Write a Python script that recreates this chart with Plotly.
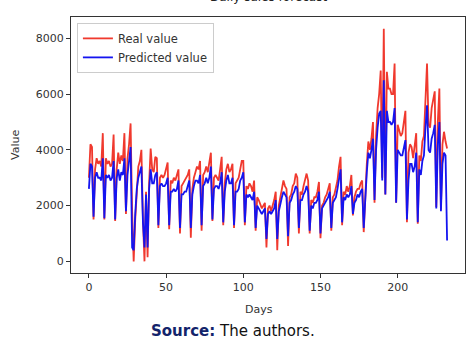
import plotly.graph_objects as go

# Daily values, grouped by week (7 days per row)
real_value = [
    3000, 4200, 4100, 1500, 3300, 3700, 3500,
    3600, 3400, 4600, 1500, 3700, 3500, 3600,
    3400, 3500, 4550, 1450, 3300, 3900, 3500,
    3800, 3600, 4600, 1700, 3700, 4200, 4950,
    1800, 0, 1500, 2700, 3400, 3600, 4000,
    1500, 0, 2500, 150, 2800, 4050, 3300,
    3200, 3750, 3700, 1200, 3000, 3100, 3000,
    3100, 3300, 3550, 1150, 2900, 2800, 3000,
    2900, 3100, 3300, 1000, 2700, 2800, 2900,
    3000, 3100, 3300, 850, 2600, 3000, 3200,
    3400, 3300, 3600, 1100, 3100, 3200, 3400,
    3200, 3500, 3900, 1450, 3000, 3100, 3000,
    2900, 3300, 3750, 1300, 2800, 3300, 3500,
    3200, 3300, 3500, 1200, 2800, 2900, 3000,
    3300, 3600, 3600, 1300, 2700, 2600, 2800,
    2700, 2500, 2900, 1100, 2300, 2200, 2000,
    1900, 2000, 2100, 500, 1900, 2000, 1800,
    2000, 2200, 2500, 400, 2000, 2300, 2600,
    2900, 2700, 2600, 550, 2300, 2400, 2700,
    2800, 3150, 3000, 1000, 2500, 2400, 2700,
    2900, 3150, 2900, 1000, 2200, 2100, 2300,
    2300, 2500, 2850, 830, 2000, 2100, 2300,
    2400, 2600, 2800, 1100, 2300, 2400, 2600,
    2900, 3400, 3750, 1300, 2500, 2400, 2700,
    2500, 2700, 3100, 1650, 2300, 2500, 2600,
    2600, 2800, 2900, 1050, 2500, 3500, 4300,
    4000, 4400, 5000, 2100, 4500, 5500, 6000,
    6850, 3000, 8350, 2400, 6800, 6200, 6200,
    6000, 6000, 7100, 2100, 4900, 4700, 4500,
    4600, 5000, 5400, 1400, 3900, 4200, 4100,
    3700, 4100, 4600, 1350, 3800, 3600, 4300,
    4500, 5800, 7100, 4900, 4800, 5500, 5800,
    6100, 1950, 5000, 6200, 1850, 4200, 4650,
    4300, 4050,
]

predicted_value = [
    2600, 3500, 3400, 1600, 3000, 3200, 3000,
    3000, 2900, 3700, 1550, 3100, 3000, 3100,
    2900, 3000, 3600, 1500, 3000, 3300, 2900,
    3200, 3100, 3700, 1800, 3100, 3600, 4100,
    500, 400, 1700, 2600, 3000, 3200, 3400,
    1400, 500, 2400, 500, 2600, 3300, 2800,
    2800, 3100, 3200, 1300, 2700, 2800, 2700,
    2700, 2800, 3000, 1300, 2500, 2500, 2600,
    2500, 2600, 2900, 1200, 2400, 2400, 2500,
    2500, 2700, 2900, 1200, 2400, 2700, 2900,
    2900, 2800, 3100, 1300, 2700, 2800, 3000,
    2800, 3000, 3400, 1500, 2600, 2700, 2700,
    2600, 2800, 3200, 1400, 2500, 2900, 3100,
    2800, 2800, 3000, 1300, 2500, 2500, 2600,
    2900, 3000, 3200, 1400, 2400, 2300, 2400,
    2300, 2200, 2500, 1200, 2000, 1900, 1800,
    1700, 1800, 1900, 800, 1700, 1800, 1700,
    1800, 1900, 2200, 800, 1800, 2100, 2300,
    2500, 2400, 2300, 900, 2100, 2200, 2400,
    2500, 2700, 2600, 1200, 2200, 2200, 2400,
    2500, 2700, 2500, 1100, 2000, 1900, 2100,
    2100, 2200, 2500, 1000, 1900, 2000, 2100,
    2200, 2300, 2500, 1200, 2100, 2200, 2300,
    2600, 2900, 3300, 1400, 2300, 2200, 2400,
    2300, 2400, 2700, 1700, 2100, 2200, 2400,
    2300, 2500, 2600, 1200, 2300, 3200, 3900,
    3700, 4000, 4400, 2200, 4000, 4800, 5300,
    5400, 2900, 6500, 2400, 5400, 5000, 5000,
    4900, 5000, 5500, 2100, 4000, 3900, 3800,
    3800, 4100, 4350, 1500, 2900, 3500, 3500,
    3200, 3400, 3900, 1400, 3300, 3100, 3600,
    3800, 4800, 5600, 4000, 3900, 4400, 4600,
    4900, 1900, 4200, 5000, 1800, 3500, 3900,
    3800, 750,
]

days = list(range(len(real_value)))

x_ticks = [0, 50, 100, 150, 200]
y_ticks = [0, 2000, 4000, 6000, 8000]

FONT = "DejaVu Sans"

fig = go.Figure()
fig.add_trace(go.Scatter(x=days, y=real_value, mode="lines", name="Real value",
                         line=dict(color="#f0392e", width=1.8)))
fig.add_trace(go.Scatter(x=days, y=predicted_value, mode="lines", name="Predicted value",
                         line=dict(color="#1414f0", width=1.8)))

axis_common = dict(showline=True, linecolor="#333333", linewidth=1, mirror=True,
                   showgrid=False, zeroline=False, ticks="outside", ticklen=4,
                   tickcolor="#333333", tickfont=dict(family=FONT, size=11, color="#333333"))

fig.update_layout(
    width=474, height=340,
    margin=dict(l=71, r=9, t=17, b=67),
    paper_bgcolor="white", plot_bgcolor="white",
    font=dict(family=FONT, size=11, color="#333333"),
    showlegend=True,
    legend=dict(x=0.015, y=0.977, xanchor="left", yanchor="top",
                bgcolor="white", bordercolor="#cccccc", borderwidth=1,
                font=dict(family=FONT, size=11.5, color="#333333"),
                tracegroupgap=0, itemwidth=30),
    xaxis=dict(range=[-11.6, 243.6], tickvals=x_ticks,
               ticktext=[str(v) for v in x_ticks], **axis_common),
    yaxis=dict(range=[-418, 8768], tickvals=y_ticks,
               ticktext=[str(v) for v in y_ticks], **axis_common),
    annotations=[
        dict(text="Daily sales forecast", xref="paper", yref="paper", x=0.5, y=1,
             yshift=11, xanchor="center", yanchor="bottom", showarrow=False,
             font=dict(family=FONT, size=12, color="#222222")),
        dict(text="Value", xref="paper", yref="paper", x=0, y=0.5, xshift=-56,
             textangle=-90, xanchor="center", yanchor="middle", showarrow=False,
             font=dict(family=FONT, size=11, color="#333333")),
        dict(text="Days", xref="paper", yref="paper", x=0.477, y=0, yshift=-36,
             xanchor="center", yanchor="middle", showarrow=False,
             font=dict(family=FONT, size=11, color="#333333")),
        dict(text="<b><span style='color:#13246b'>Source:</span></b> The authors.",
             xref="paper", yref="paper", x=0.411, y=0, yshift=-58,
             xanchor="center", yanchor="middle", showarrow=False,
             font=dict(family=FONT, size=15, color="#111111")),
    ],
)

fig.write_html("out.html")
